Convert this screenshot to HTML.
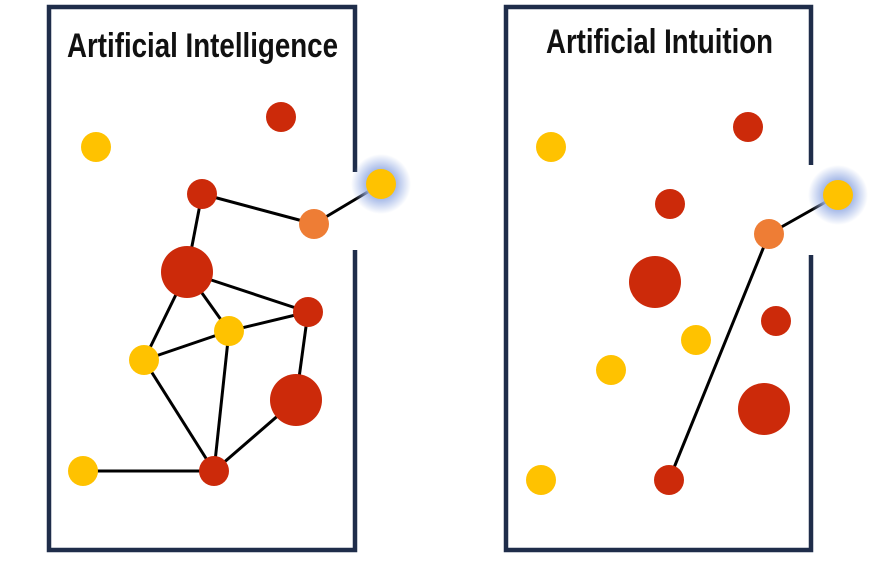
<!DOCTYPE html>
<html><head><style>
body{margin:0;background:#fff;width:892px;height:557px;overflow:hidden}
text{font-family:"Liberation Sans Narrow","Liberation Sans",sans-serif;font-weight:bold;font-size:34px;fill:#111}
</style></head><body>
<svg width="892" height="557" viewBox="0 0 892 557">
<defs>
<radialGradient id="g"><stop offset="0.45" stop-color="#9fb4e6"/><stop offset="1" stop-color="#9fb4e6" stop-opacity="0"/></radialGradient>
</defs>
<g fill="none" stroke="#1f2d4a" stroke-width="4.5">
<path d="M355,172 V7 H49 V550 H355 V250"/>
<path d="M811,165 V7 H506 V550 H811 V255"/>
</g>
<text x="67" y="57" textLength="271" lengthAdjust="spacingAndGlyphs">Artificial Intelligence</text>
<text x="546" y="53" textLength="227" lengthAdjust="spacingAndGlyphs">Artificial Intuition</text>
<g stroke="#000" stroke-width="3">
<line x1="202" y1="194" x2="314" y2="224"/><line x1="314" y1="224" x2="381" y2="184"/>
<line x1="202" y1="194" x2="187" y2="272"/><line x1="187" y1="272" x2="308" y2="312"/>
<line x1="187" y1="272" x2="229" y2="331"/><line x1="187" y1="272" x2="144" y2="360"/>
<line x1="308" y1="312" x2="229" y2="331"/><line x1="229" y1="331" x2="144" y2="360"/>
<line x1="308" y1="312" x2="296" y2="400"/><line x1="144" y1="360" x2="214" y2="471"/>
<line x1="229" y1="331" x2="214" y2="471"/><line x1="296" y1="400" x2="214" y2="471"/>
<line x1="83" y1="471" x2="214" y2="471"/>
<line x1="669" y1="480" x2="769" y2="234"/><line x1="769" y1="234" x2="838" y2="195"/>
</g>
<circle cx="381" cy="184" r="30" fill="url(#g)"/><circle cx="838" cy="195" r="30" fill="url(#g)"/>
<g fill="#ffc200">
<circle cx="96" cy="147" r="15"/><circle cx="381" cy="184" r="15"/><circle cx="229" cy="331" r="15"/>
<circle cx="144" cy="360" r="15"/><circle cx="83" cy="471" r="15"/>
<circle cx="551" cy="147" r="15"/><circle cx="838" cy="195" r="15"/><circle cx="696" cy="340" r="15"/>
<circle cx="611" cy="370" r="15"/><circle cx="541" cy="480" r="15"/>
</g>
<g fill="#cc2a0a">
<circle cx="281" cy="117" r="15"/><circle cx="202" cy="194" r="15"/><circle cx="187" cy="272" r="26"/>
<circle cx="308" cy="312" r="15"/><circle cx="296" cy="400" r="26"/><circle cx="214" cy="471" r="15"/>
<circle cx="748" cy="127" r="15"/><circle cx="670" cy="204" r="15"/><circle cx="655" cy="282" r="26"/>
<circle cx="776" cy="321" r="15"/><circle cx="764" cy="409" r="26"/><circle cx="669" cy="480" r="15"/>
</g>
<g fill="#ee7d35"><circle cx="314" cy="224" r="15"/><circle cx="769" cy="234" r="15"/></g>
</svg>
</body></html>
